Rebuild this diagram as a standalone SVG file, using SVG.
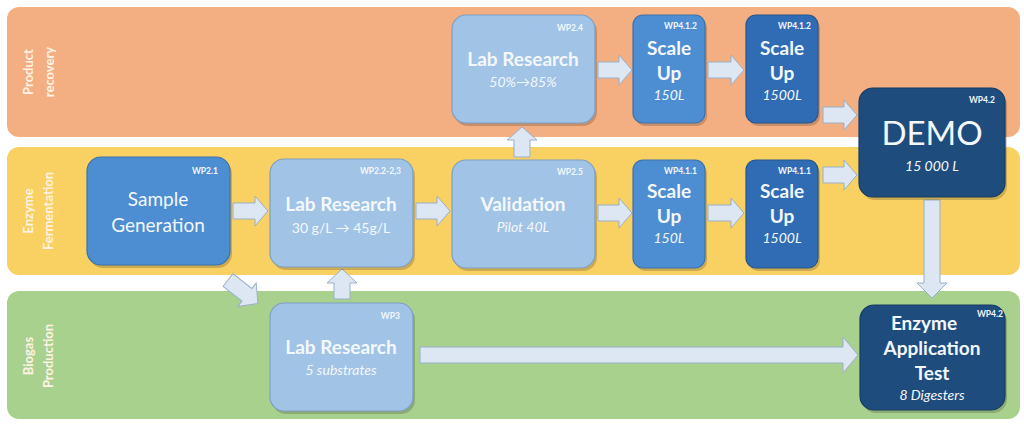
<svg xmlns="http://www.w3.org/2000/svg" width="1024" height="428" viewBox="0 0 1024 428">
<defs>
<style>
.lane-lbl{font-family:Lato,"Open Sans",sans-serif;font-size:13px;font-weight:bold;fill:#FFF3E6;text-anchor:middle}
.box{stroke-width:1.2}
.light{fill:#A0C3E6;stroke:#7E9FC4}
.mid{fill:#4C8ED1;stroke:#3C72AC}
.dark{fill:#2F6CB3;stroke:#25568F}
.navy{fill:#1E4C7C;stroke:#173C62}
.t{font-family:Lato,"Open Sans",sans-serif;fill:#F4F8FC;text-anchor:middle}
.b{font-weight:bold;font-size:19px}
.r{font-size:19px}
.s{font-size:14px}
.i{font-style:italic;font-size:14px}
.wp{font-family:Lato,"Open Sans",sans-serif;font-weight:bold;font-size:8.5px;fill:#F4F8FC;text-anchor:end}
.arr{fill:#DDE7F3;stroke:#9AAFC9;stroke-width:1}
.shadow{fill:#000;opacity:0.18}
</style>
</defs>
<rect width="1024" height="428" fill="#FFFFFF"/>
<g id="lanes">
<rect x="7" y="7" width="1013" height="130" rx="12" fill="#F3AE82"/>
<rect x="7" y="147" width="1013" height="128" rx="12" fill="#F9D062"/>
<rect x="7" y="291" width="1013" height="128" rx="12" fill="#A9D18E"/>
<text class="lane-lbl" transform="rotate(-90 33 72)" x="33" y="72">Product</text>
<text class="lane-lbl" transform="rotate(-90 54 72)" x="54" y="72">recovery</text>
<text class="lane-lbl" transform="rotate(-90 33 211)" x="33" y="211">Enzyme</text>
<text class="lane-lbl" transform="rotate(-90 53 211)" x="53" y="211">Fermentation</text>
<text class="lane-lbl" transform="rotate(-90 33 356)" x="33" y="356">Biogas</text>
<text class="lane-lbl" transform="rotate(-90 53 356)" x="53" y="356">Production</text>
</g>
<g id="connectors">
<path class="arr" d="M233 203 H255 V196 L268 211 L255 226 V219 H233 Z"/>
<path class="arr" d="M416 203 H437 V196 L450 211 L437 226 V219 H416 Z"/>
<path class="arr" d="M598 205 H619 V198 L632 213 L619 228 V221 H598 Z"/>
<path class="arr" d="M708 205 H731 V198 L744 213 L731 228 V221 H708 Z"/>
<path class="arr" d="M598 62 H619 V55 L632 70 L619 85 V78 H598 Z"/>
<path class="arr" d="M708 62 H731 V55 L744 70 L731 85 V78 H708 Z"/>
<path class="arr" d="M823 107 H844 V100 L857 115 L844 130 V123 H823 Z"/>
<path class="arr" d="M823 167 H844 V160 L857 175 L844 190 V183 H823 Z"/>
<path class="arr" d="M514 157 V140 H507 L522 127 L537 140 H530 V157 Z"/>
<path class="arr" d="M334 299 V283 H327 L342 269 L357 283 H350 V299 Z"/>
<path class="arr" d="M924 200 V283 H917 L932 298 L947 283 H940 V200 Z"/>
<path class="arr" d="M420 347 H843 V337 L858 355 L843 373 V363 H420 Z"/>
<path class="arr" transform="rotate(38 228 280)" d="M228 272 H252 V265 L266 280 L252 295 V288 H228 Z"/>
</g>
<g id="n-sample">
<rect class="shadow" x="89" y="160" width="143" height="108" rx="14"/>
<rect class="box mid" x="87" y="157" width="143" height="108" rx="14"/>
<text class="wp" x="218" y="174">WP2.1</text>
<text class="t r" x="158" y="206">Sample</text>
<text class="t r" x="158" y="232">Generation</text>
</g>
<g id="n-lab22">
<rect class="shadow" x="272" y="162" width="143" height="108" rx="14"/>
<rect class="box light" x="270" y="159" width="143" height="108" rx="14"/>
<text class="wp" x="401" y="174">WP2.2-2,3</text>
<text class="t b" x="341" y="211">Lab Research</text>
<text class="t s" x="341" y="233">30 g/L → 45g/L</text>
</g>
<g id="n-valid">
<rect class="shadow" x="454" y="163" width="143" height="108" rx="14"/>
<rect class="box light" x="452" y="160" width="143" height="108" rx="14"/>
<text class="wp" x="583" y="175">WP2.5</text>
<text class="t b" x="523" y="211">Validation</text>
<text class="t i" x="523" y="232">Pilot 40L</text>
</g>
<g id="n-scale111a">
<rect class="shadow" x="635" y="163" width="72" height="108" rx="10"/>
<rect class="box mid" x="633" y="160" width="72" height="108" rx="10"/>
<text class="wp" x="697" y="174">WP4.1.1</text>
<text class="t b" x="669" y="198">Scale</text>
<text class="t b" x="669" y="223">Up</text>
<text class="t i" x="669" y="243">150L</text>
</g>
<g id="n-scale111b">
<rect class="shadow" x="748" y="163" width="72" height="108" rx="10"/>
<rect class="box dark" x="746" y="160" width="72" height="108" rx="10"/>
<text class="wp" x="811" y="174">WP4.1.1</text>
<text class="t b" x="782" y="198">Scale</text>
<text class="t b" x="782" y="223">Up</text>
<text class="t i" x="782" y="243">1500L</text>
</g>
<g id="n-lab24">
<rect class="shadow" x="454" y="18" width="143" height="108" rx="14"/>
<rect class="box light" x="452" y="15" width="143" height="108" rx="14"/>
<text class="wp" x="583" y="31">WP2.4</text>
<text class="t b" x="523" y="66">Lab Research</text>
<text class="t i" x="523" y="87">50%→85%</text>
</g>
<g id="n-scale112a">
<rect class="shadow" x="635" y="18" width="72" height="108" rx="10"/>
<rect class="box mid" x="633" y="15" width="72" height="108" rx="10"/>
<text class="wp" x="697" y="29">WP4.1.2</text>
<text class="t b" x="669" y="55">Scale</text>
<text class="t b" x="669" y="80">Up</text>
<text class="t i" x="669" y="100">150L</text>
</g>
<g id="n-scale112b">
<rect class="shadow" x="748" y="18" width="72" height="108" rx="10"/>
<rect class="box dark" x="746" y="15" width="72" height="108" rx="10"/>
<text class="wp" x="811" y="29">WP4.1.2</text>
<text class="t b" x="782" y="55">Scale</text>
<text class="t b" x="782" y="80">Up</text>
<text class="t i" x="782" y="100">1500L</text>
</g>
<g id="n-demo">
<rect class="shadow" x="861" y="91" width="146" height="109" rx="14"/>
<rect class="box navy" x="859" y="88" width="146" height="109" rx="14"/>
<text class="wp" x="995" y="103">WP4.2</text>
<text class="t" x="932" y="145" font-size="33">DEMO</text>
<text class="t i" x="932" y="171">15 000 L</text>
</g>
<g id="n-lab3">
<rect class="shadow" x="272" y="306" width="143" height="108" rx="14"/>
<rect class="box light" x="270" y="303" width="143" height="108" rx="14"/>
<text class="wp" x="400" y="319">WP3</text>
<text class="t b" x="341" y="354">Lab Research</text>
<text class="t i" x="341" y="375">5 substrates</text>
</g>
<g id="n-enzyme">
<rect class="shadow" x="862" y="308" width="145" height="105" rx="14"/>
<rect class="box navy" x="860" y="305" width="145" height="105" rx="14"/>
<text class="wp" x="1003" y="317">WP4.2</text>
<text class="t b" x="924" y="330">Enzyme</text>
<text class="t b" x="932" y="355">Application</text>
<text class="t b" x="932" y="380">Test</text>
<text class="t i" x="932" y="400">8 Digesters</text>
</g>
</svg>
